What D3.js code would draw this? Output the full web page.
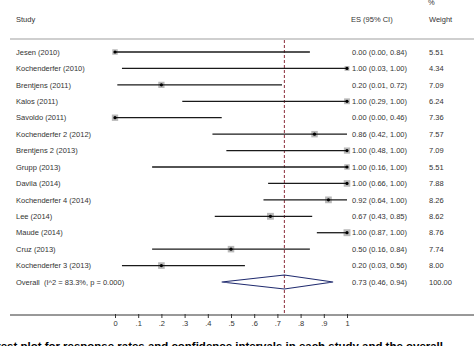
<!DOCTYPE html>
<html>
<head>
<meta charset="utf-8">
<script src="https://cdn.jsdelivr.net/npm/d3@7"></script>
<style>
  body { margin: 0; background: #fff; }
  svg { display: block; }
  text { font-family: "Liberation Sans", Arial, sans-serif; }
</style>
</head>
<body>
<div></div>
<script>
var width = 474, height = 346;

// study data
var studies = ["Jesen (2010)", "Kochenderfer (2010)", "Brentjens (2011)", "Kalos (2011)",
  "Savoldo (2011)", "Kochenderfer 2 (2012)", "Brentjens 2 (2013)", "Grupp (2013)",
  "Davila (2014)", "Kochenderfer 4 (2014)", "Lee (2014)", "Maude (2014)",
  "Cruz (2013)", "Kochenderfer 3 (2013)"];
var es     = [0.00, 1.00, 0.20, 1.00, 0.00, 0.86, 1.00, 1.00, 1.00, 0.92, 0.67, 1.00, 0.50, 0.20];
var lower  = [0.00, 0.03, 0.01, 0.29, 0.00, 0.42, 0.48, 0.16, 0.66, 0.64, 0.43, 0.87, 0.16, 0.03];
var upper  = [0.84, 1.00, 0.72, 1.00, 0.46, 1.00, 1.00, 1.00, 1.00, 1.00, 0.85, 1.00, 0.84, 0.56];
var weight = [5.51, 4.34, 7.09, 6.24, 7.36, 7.57, 7.09, 5.51, 7.88, 8.26, 8.62, 8.76, 7.74, 8.00];

var overallLabel = "Overall  (I^2 = 83.3%, p = 0.000)";
var overall = { es: 0.73, lo: 0.46, hi: 0.94, w: 100.00 };

var tickValues = [0, 0.1, 0.2, 0.3, 0.4, 0.5, 0.6, 0.7, 0.8, 0.9, 1];
var tickLabels = ["0", ".1", ".2", ".3", ".4", ".5", ".6", ".7", ".8", ".9", "1"];

var caption = "Forest plot for response rates and confidence intervals in each study and the overall";

var rows = studies.map(function(s, i) {
  return { name: s, es: es[i], lo: lower[i], hi: upper[i], w: weight[i] };
});

var svg = d3.select("div").append("svg")
    .attr("width", width)
    .attr("height", height);

var x = d3.scaleLinear().domain([0, 1]).range([115, 347]);
var y = d3.scalePoint().domain(studies.concat([overallLabel])).range([52, 282]);
var side = d3.scaleSqrt().domain([0, 10]).range([0, 7.4]);

var fmt = d3.format(".2f");
var txtCol = "#333";

// headers
svg.append("text").attr("x", 16).attr("y", 22).attr("font-size", 7.5).attr("fill", txtCol).text("Study");
svg.append("text").attr("x", 351).attr("y", 22).attr("font-size", 7.5).attr("fill", txtCol).text("ES (95% CI)");
svg.append("text").attr("x", 428).attr("y", 5).attr("font-size", 7.5).attr("fill", txtCol).text("%");
svg.append("text").attr("x", 429).attr("y", 22).attr("font-size", 7.5).attr("fill", txtCol).text("Weight");

svg.append("line")
    .attr("x1", 10).attr("x2", width)
    .attr("y1", 39).attr("y2", 39)
    .style("stroke", "#cfcfcf").style("stroke-width", 2);

// overall reference line
svg.append("line")
    .attr("x1", x(overall.es)).attr("x2", x(overall.es))
    .attr("y1", 40).attr("y2", 313)
    .style("stroke", "#8b2d3a").style("stroke-width", 1)
    .style("stroke-dasharray", "3,2");

var row = svg.append("g").selectAll("g")
    .data(rows)
  .enter().append("g")
    .attr("transform", function(d) { return "translate(0," + y(d.name) + ")"; });

row.append("text")
    .attr("x", 16).attr("y", 2.7)
    .attr("font-size", 7.5).attr("fill", txtCol)
    .text(function(d) { return d.name; });

row.append("rect")
    .attr("x", function(d) { return x(d.es) - side(d.w) / 2; })
    .attr("y", function(d) { return -side(d.w) / 2; })
    .attr("width", function(d) { return side(d.w); })
    .attr("height", function(d) { return side(d.w); })
    .style("fill", "#b9b9b9");

row.append("line")
    .attr("x1", function(d) { return x(d.lo); })
    .attr("x2", function(d) { return x(d.hi); })
    .style("stroke", "#1a1a1a").style("stroke-width", 1.3);

row.append("circle")
    .attr("cx", function(d) { return x(d.es); })
    .attr("r", 1.6)
    .style("fill", "#000");

row.append("text")
    .attr("x", 352).attr("y", 2.7)
    .attr("font-size", 7.5).attr("fill", txtCol)
    .text(function(d) { return fmt(d.es) + " (" + fmt(d.lo) + ", " + fmt(d.hi) + ")"; });

row.append("text")
    .attr("x", 429).attr("y", 2.7)
    .attr("font-size", 7.5).attr("fill", txtCol)
    .text(function(d) { return fmt(d.w); });

// overall row
var oy = y(overallLabel);
svg.append("text").attr("x", 16).attr("y", oy + 2.7).attr("font-size", 7.5).attr("fill", txtCol)
    .style("white-space", "pre").attr("xml:space", "preserve").text(overallLabel);
svg.append("path")
    .attr("d", "M" + x(overall.lo) + "," + oy + "L" + x(overall.es) + "," + (oy - 7) +
               "L" + x(overall.hi) + "," + oy + "L" + x(overall.es) + "," + (oy + 7) + "Z")
    .style("fill", "none").style("stroke", "#1f2a6e").style("stroke-width", 1.2);
svg.append("text").attr("x", 352).attr("y", oy + 2.7).attr("font-size", 7.5).attr("fill", txtCol)
    .text(fmt(overall.es) + " (" + fmt(overall.lo) + ", " + fmt(overall.hi) + ")");
svg.append("text").attr("x", 429).attr("y", oy + 2.7).attr("font-size", 7.5).attr("fill", txtCol)
    .text(fmt(overall.w));

// x axis
svg.append("line")
    .attr("x1", 10).attr("x2", width)
    .attr("y1", 315).attr("y2", 315)
    .style("stroke", "#333").style("stroke-width", 1);

var axis = d3.axisBottom(x)
    .tickValues(tickValues)
    .tickSize(4)
    .tickFormat(function(d, i) { return tickLabels[i]; });

var ax = svg.append("g")
    .attr("transform", "translate(0,314)")
    .call(axis);
ax.select(".domain").remove();
ax.selectAll("line").style("stroke", "#333");
ax.selectAll("text").attr("font-size", 7.5).attr("fill", txtCol).attr("dy", "0.6em")
    .style("font-family", "Liberation Sans, Arial, sans-serif");

// caption, cut by the bottom edge
var cap = svg.append("text")
    .attr("font-family", "Liberation Serif, Times New Roman, serif")
    .attr("font-weight", "bold")
    .attr("font-size", 13)
    .text(caption.slice(3));
var L = cap.node().getComputedTextLength();
cap.attr("font-size", 13 * 443 / L)
    .attr("text-anchor", "end")
    .attr("x", 443).attr("y", 350)
    .text(caption);
</script>
</body>
</html>
